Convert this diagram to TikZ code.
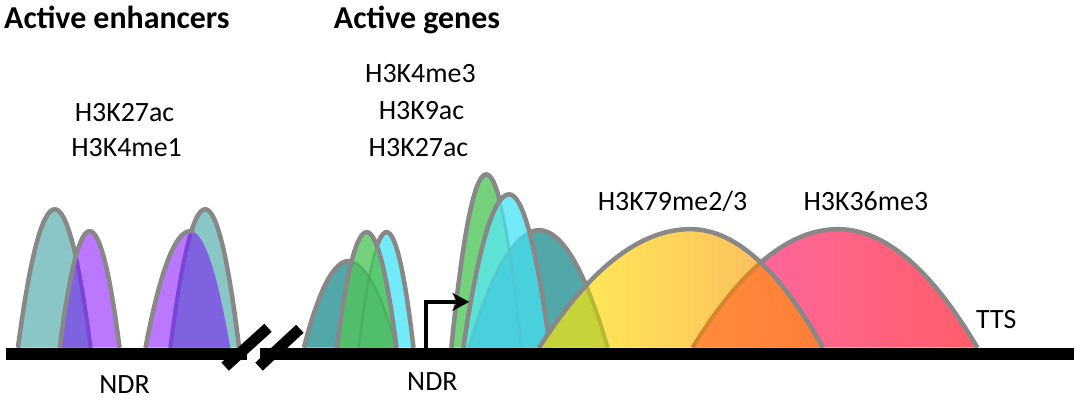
\documentclass[tikz,border=0pt]{standalone}
\usepackage{fontspec}
\setmainfont{Carlito}
\usetikzlibrary{arrows.meta}
\definecolor{olc}{HTML}{888888}
\definecolor{etl}{HTML}{8AC6C6}
\definecolor{epu}{HTML}{BB78FF}
\definecolor{epd}{HTML}{7F62E0}
\definecolor{eps}{HTML}{7A45D6}
\definecolor{gtl}{HTML}{52A8A8}
\definecolor{ggr}{HTML}{74D27C}
\definecolor{ggt}{HTML}{50BE6A}
\definecolor{ggc}{HTML}{58CA72}
\definecolor{gcy}{HTML}{72EAF7}
\definecolor{gcg}{HTML}{5EE2D6}
\definecolor{gct}{HTML}{48D0DC}
\definecolor{gcs}{HTML}{52C4CE}
\definecolor{yelL}{HTML}{FFF055}
\definecolor{yelR}{HTML}{FAB460}
\definecolor{yt}{HTML}{C6D43A}
\definecolor{yts}{HTML}{B8B836}
\definecolor{pkL}{HTML}{FF69AA}
\definecolor{pkR}{HTML}{FF5E68}
\definecolor{orL}{HTML}{FF8C3C}
\definecolor{orR}{HTML}{FF6E32}
\definecolor{ors}{HTML}{D8842E}
% peak: left base, apex x, right base, apex y
\newcommand\pkpath[4]{(#1,349) .. controls ({#1+(#2-#1)/3},{349-2*(349-#4)/3}) and ({#2-(#2-#1)/3},#4) .. (#2,#4) .. controls ({#2+(#3-#2)/3},#4) and ({#3-(#3-#2)/3},{349-2*(349-#4)/3}) .. (#3,349)}
\newcommand\pkleft[3]{(#1,349) .. controls ({#1+(#2-#1)/3},{349-2*(349-#3)/3}) and ({#2-(#2-#1)/3},#3) .. (#2,#3) -- ({#2+4},#3)}
\begin{document}
\begin{tikzpicture}[x=1pt,y=-1pt,
  outl/.style={draw=olc,line width=4.5pt,line join=round},
  stripe/.style={line width=4pt},
  lbl/.style={font=\fontsize{28}{30}\selectfont,inner sep=0pt,anchor=base},
  ttl/.style={font=\fontsize{32}{34}\selectfont\bfseries,inner sep=0pt,anchor=base west},
  dna/.style={line width=12pt,black},
  slash/.style={line width=11pt,black}]
\fill[white] (0,0) rectangle (1080,404);
% ---------- enhancer peaks, left pair
\fill[etl] \pkpath{15}{52}{88}{210} -- cycle;
\draw[outl] \pkpath{15}{52}{88}{210};
\fill[epu] \pkpath{57}{87}{117}{232} -- cycle;
\begin{scope}
  \clip \pkpath{57}{87}{117}{232} -- cycle;
  \fill[epd] \pkpath{15}{52}{88}{210} -- cycle;
  \draw[eps,stripe] \pkpath{15}{52}{88}{210};
\end{scope}
\draw[outl] \pkpath{57}{87}{117}{232};
% ---------- enhancer peaks, right pair
\fill[etl] \pkpath{168}{203}{237}{210} -- cycle;
\draw[outl] \pkpath{168}{203}{237}{210};
\fill[epu] \pkpath{143}{188}{228}{232} -- cycle;
\begin{scope}
  \clip \pkpath{143}{188}{228}{232} -- cycle;
  \fill[epd] \pkpath{168}{203}{237}{210} -- cycle;
  \draw[eps,stripe] \pkpath{168}{203}{237}{210};
\end{scope}
\draw[outl] \pkleft{143}{188}{232};
% ---------- gene peaks, upstream group
\fill[gtl] \pkpath{302}{347}{395}{262} -- cycle;
\draw[outl] \pkpath{302}{347}{395}{262};
\fill[gcy] \pkpath{357}{385}{412}{233} -- cycle;
\draw[outl] \pkpath{357}{385}{412}{233};
\fill[ggr] \pkpath{335}{365}{395}{233} -- cycle;
\begin{scope}
  \clip \pkpath{335}{365}{395}{233} -- cycle;
  \fill[ggc] \pkpath{357}{385}{412}{233} -- cycle;
  \fill[ggt] \pkpath{302}{347}{395}{262} -- cycle;
  \draw[ggt!85!black,line width=2.5pt,opacity=0.5] \pkpath{302}{347}{395}{262};
  \draw[ggt!85!black,line width=2.5pt,opacity=0.5] \pkpath{357}{385}{412}{233};
\end{scope}
\draw[outl] \pkpath{335}{365}{395}{233};
% ---------- gene peaks, downstream group
\fill[gtl] \pkpath{467}{538}{607}{231} -- cycle;
\draw[outl] \pkpath{467}{538}{607}{231};
\fill[ggr] \pkpath{450}{485}{520}{175} -- cycle;
\draw[outl] \pkpath{450}{485}{520}{175};
\fill[gcy] \pkpath{462}{508}{549}{195} -- cycle;
\begin{scope}
  \clip \pkpath{462}{508}{549}{195} -- cycle;
  \fill[gcg] \pkpath{450}{485}{520}{175} -- cycle;
  \fill[gct] \pkpath{467}{538}{607}{231} -- cycle;
  \draw[gcs,line width=3pt,opacity=0.7] \pkpath{450}{485}{520}{175};
  \draw[gcs,line width=3pt,opacity=0.7] \pkpath{467}{538}{607}{231};
\end{scope}
\draw[outl] \pkpath{462}{508}{549}{195};
% ---------- H3K36me3 (pink) and H3K79me2/3 (yellow)
\shade[left color=pkL,right color=pkR] \pkpath{692}{838}{978}{230} -- cycle;
\draw[outl] \pkpath{692}{838}{978}{230};
\shade[left color=yelL,right color=yelR] \pkpath{538}{690}{823}{230} -- cycle;
\begin{scope}
  \clip \pkpath{538}{690}{823}{230} -- cycle;
  \fill[yt] \pkpath{467}{538}{607}{231} -- cycle;
  \draw[yts,stripe] \pkpath{467}{538}{607}{231};
  \shade[left color=orL,right color=orR] \pkpath{692}{838}{978}{230} -- cycle;
  \draw[ors,stripe] \pkpath{692}{838}{978}{230};
\end{scope}
\draw[outl] \pkpath{538}{690}{823}{230};
% ---------- DNA line with break
\coordinate (dnaL) at (3,355);
\coordinate (brkL) at (245,355);
\coordinate (brkR) at (258,355);
\coordinate (dnaR) at (1075,355);
\draw[dna] (dnaL) -- (brkL);
\draw[dna] (brkR) -- (dnaR);
\coordinate (s1a) at (223,368);
\coordinate (s1b) at (266,329);
\coordinate (s2a) at (257,368);
\coordinate (s2b) at (298,330);
\draw[slash] (s1a) -- (s1b);
\draw[slash] (s2a) -- (s2b);
% ---------- TSS arrow
\coordinate (tss) at (425,349);
\coordinate (tssup) at (425,303);
\coordinate (tssend) at (468,303);
\draw[black,line width=4pt,-{Stealth[length=17pt,width=18pt,inset=5pt]}] (tss) -- (tssup) -- (tssend);
% ---------- labels
\node[ttl] (tenh) at (1,29) {Active enhancers};
\node[ttl] (tgen) at (332,29) {Active genes};
\node[lbl] (e1) at (122,122) {H3K27ac};
\node[lbl] (e2) at (124,157) {H3K4me1};
\node[lbl] (g1) at (419,83) {H3K4me3};
\node[lbl] (g2) at (420,120) {H3K9ac};
\node[lbl] (g3) at (417,157) {H3K27ac};
\node[lbl] (k79) at (672,211) {H3K79me2/3};
\node[lbl] (k36) at (866,211) {H3K36me3};
\node[lbl] (tts) at (997,330) {TTS};
\node[lbl] (ndr1) at (122,395) {NDR};
\node[lbl] (ndr2) at (431,392) {NDR};
\end{tikzpicture}
\end{document}
